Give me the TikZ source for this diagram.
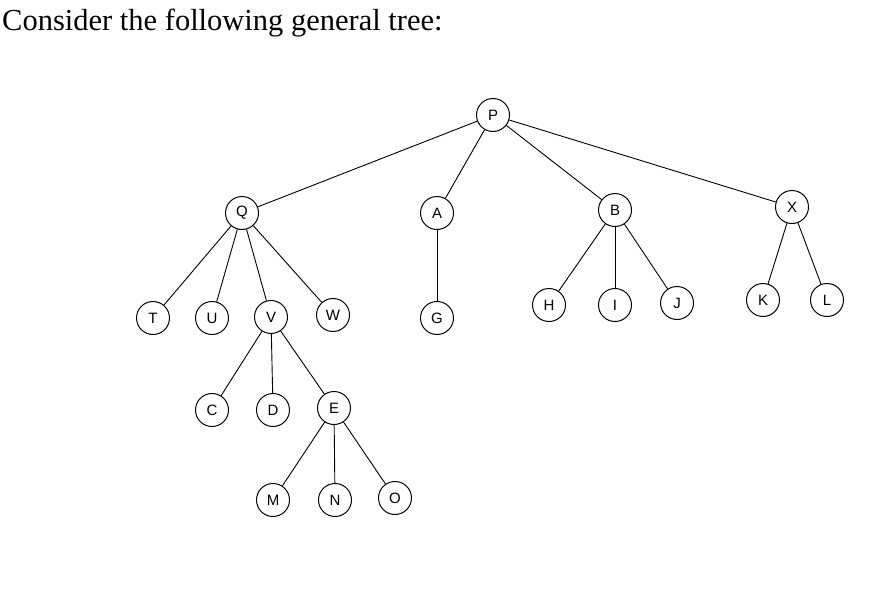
\documentclass[tikz,border=0pt]{standalone}
\usepackage{fontspec}
\setmainfont{Liberation Serif}
\newfontfamily\nodefont{Liberation Sans}
\begin{document}
\begin{tikzpicture}[x=1pt,y=-1pt,
  tn/.style={circle,draw,line width=1pt,minimum size=33pt,inner sep=0pt,font=\nodefont\fontsize{15}{15}\selectfont},
  ed/.style={line width=0.9pt}]
\useasboundingbox (0,0) rectangle (885,602);
\node[anchor=base west,font=\fontsize{30.5}{32}\selectfont,inner sep=0pt] (title) at (2,31) {Consider the following general tree:};
\foreach \n/\x/\y in {P/493/115,Q/242/213,A/437/213,B/615/210,X/792/207,
  T/153/318,U/212/318,V/271/317,W/333/315,G/437/318,H/549/305,I/615/305,J/677/303,K/763/300,L/827/300,
  C/212/410,D/273/410,E/334/408,M/273/500,N/335/500,O/395/498}
  \node[tn] (\n) at (\x,\y) {\n};
\foreach \a/\b in {P/Q,P/A,P/B,P/X,Q/T,Q/U,Q/V,Q/W,A/G,B/H,B/I,B/J,X/K,X/L,V/C,V/D,V/E,E/M,E/N,E/O}
  \draw[ed] (\a) -- (\b);
\end{tikzpicture}
\end{document}
